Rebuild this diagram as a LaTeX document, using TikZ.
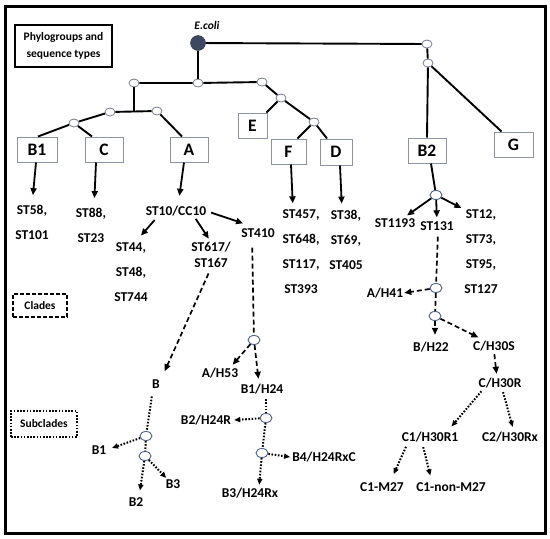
\documentclass[tikz,border=0pt]{standalone}
\usepackage{fontspec}
\setmainfont{Carlito}
\usetikzlibrary{arrows.meta,shapes.geometric,calc}
\definecolor{boxgray}{HTML}{8E93A3}
\definecolor{jgray}{HTML}{7A8194}
\definecolor{jblue}{HTML}{4F5F86}
\definecolor{rootfill}{HTML}{3D4862}
\begin{document}
\begin{tikzpicture}[x=1pt,y=-1pt,
 grp/.style={draw=boxgray,line width=1pt,fill=white,font=\bfseries\fontsize{17.5}{17.5}\selectfont,inner sep=0pt,minimum height=25pt},
 jn/.style={ellipse,draw=jgray,line width=0.8pt,fill=white,minimum width=10pt,minimum height=8pt,inner sep=0pt},
 jb/.style={ellipse,draw=jblue,line width=0.9pt,fill=white,minimum width=12pt,minimum height=9pt,inner sep=0pt},
 st/.style={font=\bfseries\fontsize{13.5}{25}\selectfont,inner sep=0pt,align=center},
 tree/.style={line width=1.9pt},
 arr/.style={line width=1.8pt,-{Triangle[length=7pt,width=6pt]}},
 darr/.style={line width=1.7pt,dash pattern=on 5pt off 3pt,-{Triangle[length=7pt,width=6pt]}},
 dline/.style={line width=1.7pt,dash pattern=on 5pt off 3pt},
 parr/.style={line width=2pt,dash pattern=on 1.6pt off 1.6pt,-{Triangle[length=6pt,width=5pt]}},
 pline/.style={line width=2pt,dash pattern=on 1.6pt off 1.6pt},
 lab/.style={font=\bfseries\fontsize{11.5}{17}\selectfont,align=center}
]
\useasboundingbox (0,0) rectangle (550,539);
\fill[white] (0,0) rectangle (550,539);
\draw[line width=3pt] (5,6) rectangle (545,533);

% legend boxes
\node[lab,draw,line width=2pt,minimum width=97pt,minimum height=42pt] (phylo) at (63.5,46) {Phylogroups and\\sequence types};
\node[lab,draw,line width=1.7pt,dash pattern=on 4pt off 2pt,minimum width=54pt,minimum height=23pt] (clades) at (40,305.5) {Clades};
\node[lab,draw,line width=2pt,dash pattern=on 1.6pt off 1.6pt,minimum width=66pt,minimum height=26pt] (subclades) at (44,424) {Subclades};

% phylogroup boxes
\node[grp,minimum width=40pt] (B1) at (37,149.5) {B1};
\node[grp,minimum width=38pt] (C) at (104,149.5) {C};
\node[grp,minimum width=38pt] (A) at (189,149.5) {A};
\node[grp,minimum width=29pt] (E) at (252.5,125.5) {E};
\node[grp,minimum width=35pt] (F) at (288.5,151.5) {F};
\node[grp,minimum width=32pt,minimum height=26pt] (D) at (336,152) {D};
\node[grp,minimum width=38pt] (B2) at (427,150.5) {B2};
\node[grp,minimum width=39pt] (G) at (513.5,144.5) {G};

% tree junctions
\node[font=\bfseries\itshape\fontsize{11.5}{12}\selectfont] (ecoli) at (207,26) {E.coli};
\node[circle,draw=black!80,fill=rootfill,minimum size=15pt,inner sep=0pt] (root) at (198,43) {};
\node[jn] (jR) at (427,44) {};
\node[jn] (jR2) at (428,63) {};
\node[jn] (jM) at (198,83) {};
\node[jn] (jL) at (134,83) {};
\node[jn] (jE) at (262,82) {};
\node[jn] (jLL) at (110,112) {};
\node[jn] (jLR) at (157,111) {};
\coordinate (jLmid) at (134,111.5);
\node[jn] (jBC) at (74,123) {};
\node[jn] (jEF) at (281,98) {};
\node[jn] (jFD) at (314,122) {};

\draw[tree] (root) -- (jM);
\draw[tree] (root) -- (jR);
\draw[tree] (jR) -- (jR2);
\draw[tree] (jR2) -- (B2.north);
\draw[tree] (jR2) -- ([xshift=8pt]G.north west);
\draw[tree] (jL) -- (jM) -- (jE);
\draw[tree] (jL) -- (jLmid);
\draw[tree] (jLL) -- (jLR);
\draw[tree] (jLL) -- (jBC);
\draw[tree] (jBC) -- ([xshift=1pt]B1.north);
\draw[tree] (jBC) -- ([xshift=-12pt]C.north);
\draw[tree] (jLR) -- ([xshift=-7pt]A.north);
\draw[tree] (jE) -- (jEF);
\draw[tree] (jEF) -- ([xshift=-1pt]E.north east);
\draw[tree] (jEF) -- (jFD);
\draw[tree] (jFD) -- ([xshift=9pt]F.north);
\draw[tree] (jFD) -- ([xshift=-9pt]D.north);

% sequence types
\node[st] (st58) at (32,222.5) {ST58,\\ST101};
\node[st] (st88) at (91,225.5) {ST88,\\ST23};
\node[st] (st10) at (176,211) {ST10/CC10};
\node[st] (st44) at (131,272) {ST44,\\ST48,\\ST744};
\node[st,font=\bfseries\fontsize{13.5}{16}\selectfont] (st617) at (211,255) {ST617/\\ST167};
\node[st] (st410) at (258,233) {ST410};
\node[st] (st457) at (301,251.5) {ST457,\\ST648,\\ST117,\\ST393};
\node[st] (st38) at (346,239.5) {ST38,\\ST69,\\ST405};
\node[st] (st1193) at (395,223) {ST1193};
\node[st] (st131) at (437,226) {ST131};
\node[st] (st12) at (481,251.5) {ST12,\\ST73,\\ST95,\\ST127};

% clades / subclades
\node[st] (AH53) at (220,373) {A/H53};
\node[st] (BH24) at (262,389) {B1/H24};
\node[st] (BH24R) at (206,420) {B2/H24R};
\node[st] (B4) at (324,457) {B4/H24RxC};
\node[st] (B3H) at (250,493) {B3/H24Rx};
\node[st] (Bc) at (156,384) {B};
\node[st] (B1s) at (99,450) {B1};
\node[st] (B2s) at (136,502) {B2};
\node[st] (B3s) at (173,484) {B3};
\node[st] (AH41) at (385,293) {A/H41};
\node[st] (BH22) at (431,347) {B/H22};
\node[st] (CH30S) at (494,346) {C/H30S};
\node[st] (CH30R) at (500,383) {C/H30R};
\node[st] (C1H) at (430,437) {C1/H30R1};
\node[st] (C2H) at (510,437) {C2/H30Rx};
\node[st] (C1M) at (382,487) {C1-M27};
\node[st] (C1N) at (451,487) {C1-non-M27};

\node[jb] (c410) at (254,340) {};
\node[jb] (c24a) at (266,418) {};
\node[jb] (c24b) at (262,453) {};
\node[jb] (cB1) at (146,436) {};
\node[jb] (cB2) at (145,456) {};
\node[jb] (cST) at (436,195) {};
\node[jb] (cH41) at (436,288) {};
\node[jb] (cH22) at (435,316) {};

% solid arrows
\draw[arr,shorten >=10pt] ([xshift=-1pt]B1.south) -- (st58.north);
\draw[arr,shorten >=10pt] ([xshift=-8pt]C.south) -- ([xshift=3pt]st88.north);
\draw[arr,shorten >=10pt] ([xshift=-5pt]A.south) -- ([xshift=2pt]st10.north);
\draw[arr,shorten <=5pt,shorten >=9pt] ([xshift=-18pt]st10.south) -- ([xshift=4pt]st44.north);
\draw[arr,shorten <=3pt,shorten >=4pt] ([xshift=18pt]st10.south) -- (st617.north);
\draw[arr,shorten <=5pt] (st10.east) -- ([xshift=2pt,yshift=5pt]st410.north west);
\draw[arr,shorten >=6pt] ([xshift=2.5pt]F.south) -- ([xshift=-8pt]st457.north);
\draw[arr,shorten >=6pt] ([xshift=4pt]D.south) -- ([xshift=-4pt]st38.north);
\draw[tree] ([xshift=4pt]B2.south) -- (cST);
\draw[arr,shorten >=5pt] (cST) -- ([xshift=8pt]st1193.north);
\draw[arr,shorten >=4pt] (cST) -- (st131.north);
\draw[arr,shorten >=3pt] (cST) -- (st12.north west);

% dashed (clades)
\draw[dline,shorten <=10pt] ([xshift=-6pt]st410.south) -- (c410);
\draw[darr,shorten <=6pt,shorten >=9pt] (st617.south) -- ([xshift=5pt]Bc.north);
\draw[darr,shorten >=4pt] (c410) -- ([xshift=10pt]AH53.north);
\draw[darr,shorten >=5pt] (c410) -- ([xshift=-3pt]BH24.north);
\draw[dline,shorten <=6pt] ([xshift=1pt]st131.south) -- (cH41);
\draw[darr,shorten >=1pt] (cH41) -- (AH41.east);
\draw[dline] (cH41) -- (cH22);
\draw[darr,shorten >=7pt] (cH22) -- ([xshift=4pt]BH22.north);
\draw[darr,shorten >=3pt] (cH22) -- ([xshift=8pt,yshift=2pt]CH30S.north west);
\draw[darr,shorten <=3pt,shorten >=4pt] (CH30S.south) -- ([xshift=-3pt]CH30R.north);

% dotted (subclades)
\draw[pline,shorten <=5pt] ([xshift=4pt]BH24.south) -- (c24a);
\draw[parr] (c24a) -- ([xshift=3pt]BH24R.east);
\draw[pline] (c24a) -- (c24b);
\draw[parr] (c24b) -- ([xshift=-2pt]B4.west);
\draw[parr,shorten >=3pt] (c24b) -- ([xshift=9pt]B3H.north);
\draw[pline,shorten <=8pt] ([xshift=-3pt]Bc.south) -- (cB1);
\draw[parr,shorten >=6pt] (cB1) -- (B1s.east);
\draw[pline] (cB1) -- (cB2);
\draw[parr,shorten >=7pt] (cB2) -- ([xshift=3pt]B2s.north);
\draw[parr,shorten >=2pt] (cB2) -- ([xshift=2pt]B3s.north west);
\draw[parr,shorten <=4pt,shorten >=7pt] ([xshift=-16pt]CH30R.south) -- ([xshift=17pt]C1H.north);
\draw[parr,shorten <=4pt,shorten >=5pt] ([xshift=2pt]CH30R.south) -- ([xshift=4pt]C2H.north);
\draw[parr,shorten <=5pt,shorten >=9pt] ([xshift=-22pt]C1H.south) -- ([xshift=8pt]C1M.north);
\draw[parr,shorten <=5pt,shorten >=7pt] ([xshift=-8pt]C1H.south) -- ([xshift=-19pt]C1N.north);
\end{tikzpicture}
\end{document}
